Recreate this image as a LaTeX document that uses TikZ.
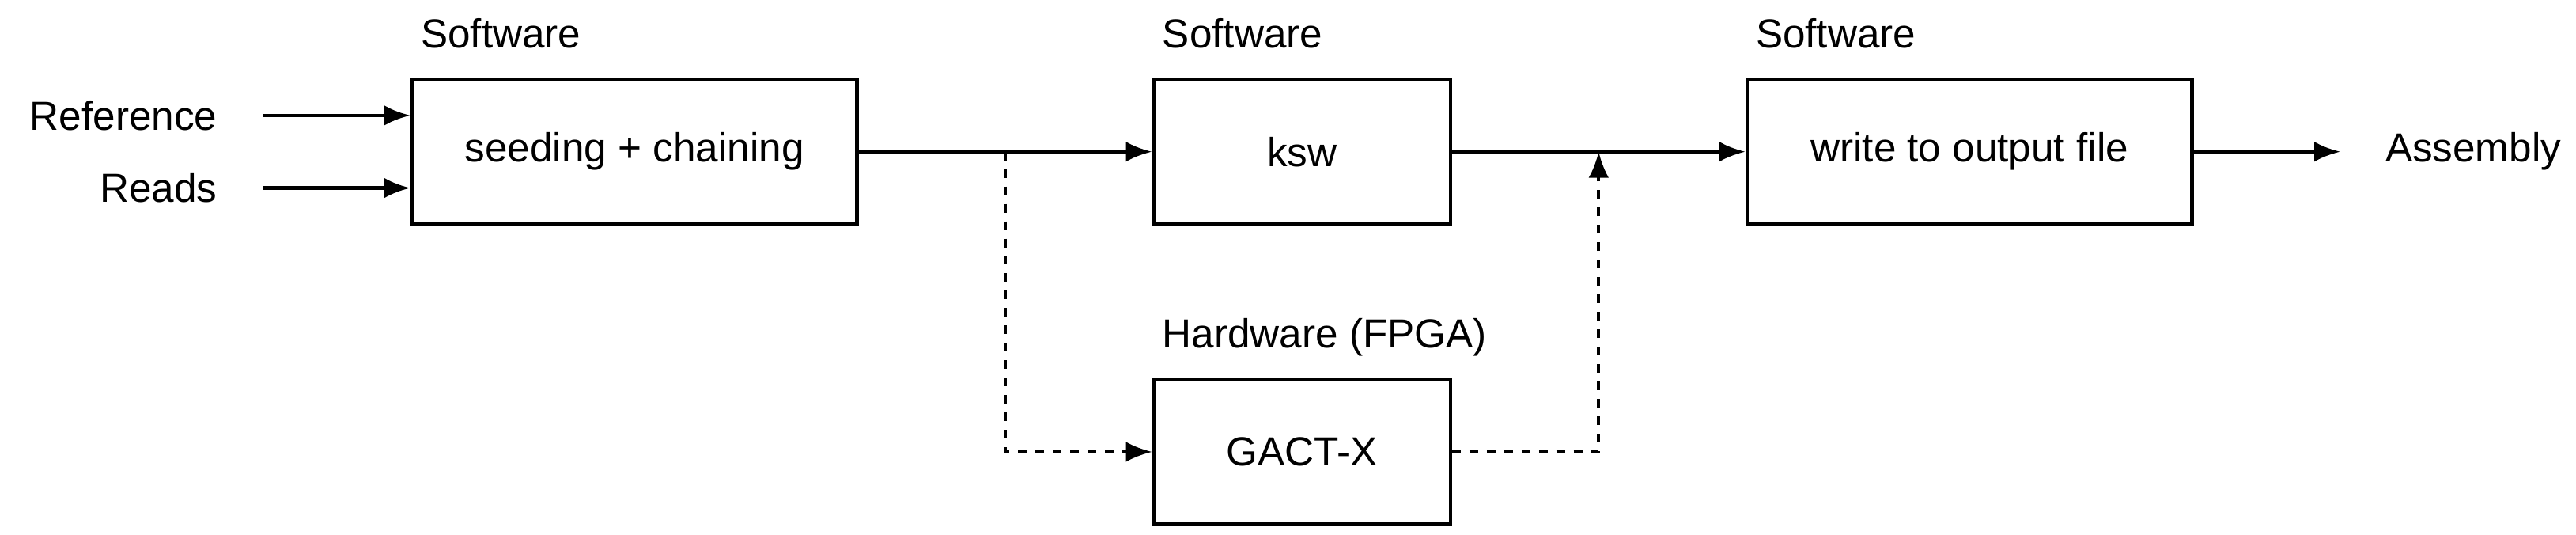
\documentclass[tikz,border=0pt]{standalone}
\usepackage{fontspec}
\setmainfont{Liberation Sans}
\usetikzlibrary{arrows.meta}
\begin{document}
\begin{tikzpicture}[x=0.02cm,y=-0.02cm,
  box/.style={draw,line width=1.2pt,minimum width=5.4cm,minimum height=1.76cm,inner sep=0pt,font=\fontsize{14}{16}\selectfont},
  sbox/.style={box,minimum width=3.6cm},
  lbl/.style={anchor=base west,inner sep=0pt,font=\fontsize{14}{16}\selectfont},
  arr/.style={-{Latex[length=9pt,width=7pt]},line width=1.2pt},
  darr/.style={arr,dashed,line width=1pt}]
\useasboundingbox (0,0) rectangle (1563,324);
\node[box] (seed) at (385,92) {seeding + chaining};
\node[sbox] (ksw) at (790,92) {ksw};
\node[box] (out) at (1195,92) {write to output file};
\node[sbox] (gact) at (790,274) {GACT-X};
\node[lbl] (s1) at (255,29) {Software};
\node[lbl] (s2) at (705,29) {Software};
\node[lbl] (s3) at (1065,29) {Software};
\node[lbl] (hw) at (705,211) {Hardware (FPGA)};
\node[anchor=east,inner sep=0pt,font=\fontsize{14}{16}\selectfont] (ref) at (132,70) {Reference};
\node[anchor=east,inner sep=0pt,font=\fontsize{14}{16}\selectfont] (reads) at (132,114) {Reads};
\node[anchor=west,inner sep=0pt,font=\fontsize{14}{16}\selectfont] (asm) at (1447,92) {Assembly};
\coordinate (r0) at (160,70); \coordinate (r1) at (160,114);
\coordinate (br) at (610,92); \coordinate (mg) at (970,92);
\coordinate (oe) at (1420,92);
\draw[arr] (r0) -- (seed.west |- r0);
\draw[arr] (r1) -- (seed.west |- r1);
\draw[arr] (seed) -- (ksw);
\draw[arr] (ksw) -- (out);
\draw[arr] (out) -- (oe);
\draw[darr] (br) |- (gact);
\draw[darr] (gact) -| (mg);
\end{tikzpicture}
\end{document}
